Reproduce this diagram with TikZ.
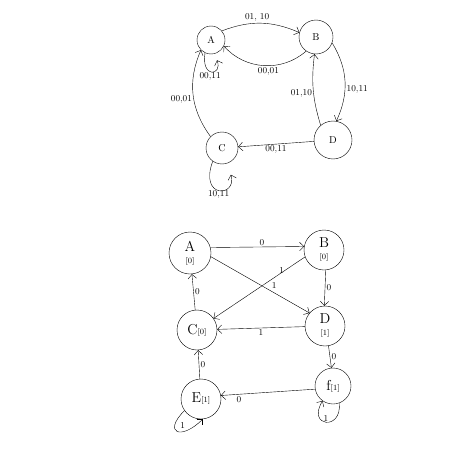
\documentclass[tikz,border=0pt]{standalone}
\usetikzlibrary{arrows.meta}

\begin{document}
\begin{tikzpicture}[
  x=1pt, y=-1pt,
  state/.style={draw, circle, inner sep=0pt},
  lbl/.style={font=\small, inner sep=1.5pt},
  arr/.style={-{Straight Barb[length=1.5mm]}, thin}
]
\useasboundingbox (0,0) rectangle (474,452);

% top machine
\node[state, minimum size=28pt] (A1) at (211,40) {A};
\node[state, minimum size=34pt] (B1) at (316,37) {B};
\node[state, minimum size=32pt] (C1) at (222,148) {C};
\node[state, minimum size=38pt] (D1) at (333,140) {D};

\draw[arr] (A1.40) to[bend left=22] node[lbl, above, pos=0.45]{01, 10} (B1.165);
\draw[arr] (B1.235) to[bend left=45] node[lbl, below, pos=0.45]{00,01} (A1.-25);
\draw[arr, shorten >=7pt] (A1.245) .. controls +(-4,26) and +(8,22) .. node[lbl, below, pos=0.45]{00,11} (A1.285);
\draw[arr] (C1.135) to[bend left=30] node[lbl, left, pos=0.45]{00,01} (A1.225);
\draw[arr] (B1.-20) to[bend left=28] node[lbl, right, pos=0.6]{10,11} (D1.80);
\draw[arr] (D1.130) to[bend left=12] node[lbl, left, pos=0.45]{01,10} (B1.265);
\draw[arr] (D1) -- node[lbl, below]{00,11} (C1);
\draw[arr, shorten >=12pt] (C1.235) .. controls +(-14,38) and +(10,34) .. node[lbl, below, pos=0.5]{10,11} (C1.290);

% bottom machine
\node[state, minimum size=42pt, align=center] (A2) at (190,253) {\Large A\\{\footnotesize[0]}};
\node[state, minimum size=40pt, align=center] (B2) at (324,250) {\Large B\\{\footnotesize[0]}};
\node[state, minimum size=40pt] (C2) at (197,330) {\Large C{\footnotesize[0]}};
\node[state, minimum size=40pt, align=center] (D2) at (325,326) {\Large D\\{\footnotesize[1]}};
\node[state, minimum size=40pt] (E2) at (201,399) {\Large E{\footnotesize[1]}};
\node[state, minimum size=36pt] (F2) at (333,386) {\Large f{\footnotesize[1]}};

\draw[arr] (A2.15) -- node[lbl, above, pos=0.55]{0} (B2.170);
\draw[arr] (A2.-10) -- node[lbl, above right, pos=0.6]{1} (D2.140);
\draw[arr] (B2.200) -- node[lbl, above right, pos=0.3]{1} (C2.35);
\draw[arr] (B2.-85) -- node[lbl, right]{0} (D2.92);
\draw[arr] (D2) -- node[lbl, below]{1} (C2);
\draw[arr] (C2) -- node[lbl, right]{0} (A2);
\draw[arr] (D2.-80) -- node[lbl, right]{0} (F2.95);
\draw[arr] (F2.190) -- node[lbl, below right, pos=0.85]{0} (E2.10);
\draw[arr] (E2) -- node[lbl, right]{0} (C2);
\draw[arr] (E2.215) .. controls +(-22,22) and +(-22,22) .. node[lbl, anchor=south west, inner sep=0pt, xshift=3pt, yshift=3pt, pos=0.5]{1} (E2.275);
\draw[arr] (F2.290) .. controls +(3,28) and +(-16,26) .. node[lbl, above, inner sep=0.5pt, pos=0.5]{1} (F2.235);
\end{tikzpicture}
\end{document}
